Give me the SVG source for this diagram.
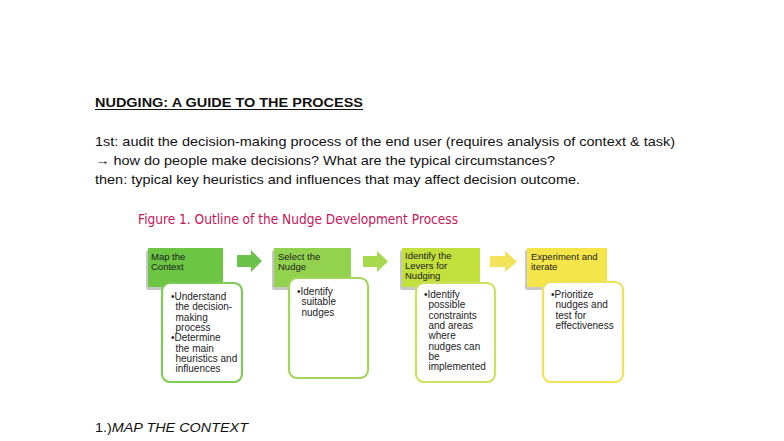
<svg xmlns="http://www.w3.org/2000/svg" width="784" height="441" viewBox="0 0 784 441">
<style>
.body{font-family:"Liberation Sans",Arial,sans-serif;font-size:13px;fill:#111}
.head{font-family:"Liberation Sans",Arial,sans-serif;font-size:9.5px;fill:#1a1a1a}
.det{font-family:"Liberation Sans",Arial,sans-serif;font-size:10px;fill:#222}
.shadow{fill:#c8c8c8}
.card{fill:#fff;stroke-width:2.2}
</style>
<rect width="784" height="441" fill="#fff"/>
<text class="body" x="95" y="107" font-weight="bold" textLength="268" lengthAdjust="spacingAndGlyphs">NUDGING: A  GUIDE TO THE PROCESS</text>
<line x1="95" y1="109.5" x2="363" y2="109.5" stroke="#111" stroke-width="1"/>
<text class="body" x="95" y="146" textLength="580" lengthAdjust="spacingAndGlyphs">1st: audit the decision-making process of the end user (requires analysis of context &amp; task)</text>
<text class="body" x="95" y="165" textLength="460" lengthAdjust="spacingAndGlyphs">→ how do people make decisions? What are the typical circumstances?</text>
<text class="body" x="95" y="184" textLength="485" lengthAdjust="spacingAndGlyphs">then: typical key heuristics and influences that may affect decision outcome.</text>
<text x="138" y="224" font-family="'DejaVu Sans',sans-serif" font-size="14" fill="#c2185b" textLength="320" lengthAdjust="spacingAndGlyphs">Figure 1. Outline of the Nudge Development Process</text>

<g id="connectors">
<polygon points="237,255 251,255 251,250 262,261 251,272 251,267 237,267" fill="#6cc24a"/>
<polygon points="363,256 377,256 377,251 388,261.5 377,272 377,267 363,267" fill="#a8d84e"/>
<polygon points="490,256 505,256 505,251 517,261.5 505,272 505,267 490,267" fill="#f2e35a"/>
</g>

<g id="node1">
<rect class="shadow" x="146" y="250" width="76" height="40" rx="2"/>
<rect x="148" y="248" width="75" height="39" fill="#6cc644"/>
<text class="head"><tspan x="151" y="259.5">Map the</tspan><tspan x="151" y="269.5">Context</tspan></text>
<rect class="card" x="162" y="283" width="80" height="99" rx="8" stroke="#7ccb52"/>
<text class="det"><tspan x="171" y="300">•Understand</tspan><tspan x="175.5" y="310.3">the decision-</tspan><tspan x="175.5" y="320.6">making</tspan><tspan x="175.5" y="330.9">process</tspan><tspan x="171" y="341.2">•Determine</tspan><tspan x="175.5" y="351.5">the main</tspan><tspan x="175.5" y="361.8">heuristics and</tspan><tspan x="175.5" y="372.1">influences</tspan></text>
</g>

<g id="node2">
<rect class="shadow" x="272" y="250" width="77" height="40" rx="2"/>
<rect x="274" y="248" width="77" height="39" fill="#93d24e"/>
<text class="head"><tspan x="278" y="259.5">Select the</tspan><tspan x="278" y="269.5">Nudge</tspan></text>
<rect class="card" x="289" y="278" width="79" height="100" rx="8" stroke="#a3d65a"/>
<text class="det"><tspan x="297" y="295">•Identify</tspan><tspan x="301.5" y="305.3">suitable</tspan><tspan x="301.5" y="315.6">nudges</tspan></text>
</g>

<g id="node3">
<rect class="shadow" x="400" y="250" width="79" height="40" rx="2"/>
<rect x="402" y="248" width="78" height="39" fill="#c4e03e"/>
<text class="head"><tspan x="405" y="259">Identify the</tspan><tspan x="405" y="269">Levers for</tspan><tspan x="405" y="279">Nudging</tspan></text>
<rect class="card" x="416" y="283" width="79" height="99" rx="8" stroke="#cbe25e"/>
<text class="det"><tspan x="424" y="298">•Identify</tspan><tspan x="428.5" y="308.3">possible</tspan><tspan x="428.5" y="318.6">constraints</tspan><tspan x="428.5" y="328.9">and areas</tspan><tspan x="428.5" y="339.2">where</tspan><tspan x="428.5" y="349.5">nudges can</tspan><tspan x="428.5" y="359.8">be</tspan><tspan x="428.5" y="370.1">implemented</tspan></text>
</g>

<g id="node4">
<rect class="shadow" x="525" y="250" width="81" height="40" rx="2"/>
<rect x="527" y="248" width="80" height="39" fill="#f4e64a"/>
<text class="head"><tspan x="531" y="259.5">Experiment and</tspan><tspan x="531" y="269.5">iterate</tspan></text>
<rect class="card" x="543" y="282" width="80" height="100" rx="8" stroke="#f0e35a"/>
<text class="det"><tspan x="551" y="298">•Prioritize</tspan><tspan x="555.5" y="308.3">nudges and</tspan><tspan x="555.5" y="318.6">test for</tspan><tspan x="555.5" y="328.9">effectiveness</tspan></text>
</g>

<text class="body" x="95" y="432" textLength="153" lengthAdjust="spacingAndGlyphs">1.)<tspan font-style="italic">MAP THE CONTEXT</tspan></text>
</svg>
